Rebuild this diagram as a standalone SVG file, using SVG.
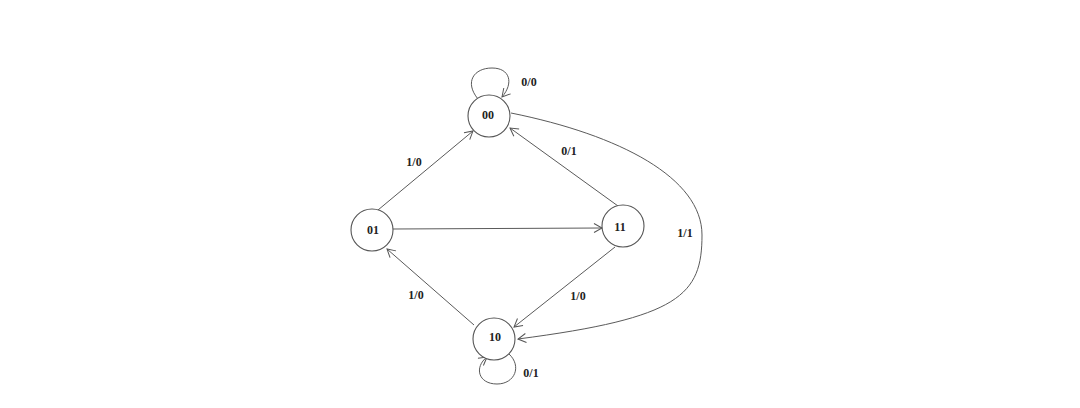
<svg xmlns="http://www.w3.org/2000/svg" width="1080" height="408" viewBox="0 0 1080 408">
<style>
.node circle{fill:#fff;stroke:#555;stroke-width:1.1}
.t{font-family:"Liberation Serif","Times New Roman",serif;font-weight:bold;font-size:12px;fill:#222;text-anchor:middle}
.e{fill:none;stroke:#5a5a5a;stroke-width:1;marker-end:url(#arr)}
</style>
<defs>
<marker id="arr" markerWidth="12" markerHeight="12" refX="9" refY="5" orient="auto" markerUnits="userSpaceOnUse">
<path d="M1,0.5 L9,5 L1,9.5" fill="none" stroke="#555" stroke-width="1"/>
</marker>
</defs>
<rect width="1080" height="408" fill="#fff"/>
<g id="connectors">
<path class="e" d="M478,99 C464,82 474,68 492,68 C510,68 514,83 502,97"/>
<path class="e" d="M509,354 C522,366 515,384 497,384 C478,384 474,367 487,357"/>
<path class="e" d="M378,210 L473,131"/>
<path class="e" d="M618,206 L510,128"/>
<path class="e" d="M393,229 L602,228"/>
<path class="e" d="M615,247 L514,327"/>
<path class="e" d="M474,325 L387,249"/>
<path class="e" d="M511,113 C620,135 702,178 702,235 C702,295 680,318 518,339"/>
<text class="t" x="529" y="86">0/0</text>
<text class="t" x="414" y="166">1/0</text>
<text class="t" x="569" y="155">0/1</text>
<text class="t" x="685" y="237">1/1</text>
<text class="t" x="416" y="299">1/0</text>
<text class="t" x="578" y="300">1/0</text>
<text class="t" x="531" y="377">0/1</text>
</g>
<g id="n00" class="node"><circle cx="489" cy="116" r="21"/><text class="t" x="488" y="119">00</text></g>
<g id="n01" class="node"><circle cx="372" cy="230" r="21"/><text class="t" x="373" y="234">01</text></g>
<g id="n11" class="node"><circle cx="623" cy="226" r="21"/><text class="t" x="620" y="231">11</text></g>
<g id="n10" class="node"><circle cx="494" cy="339" r="21"/><text class="t" x="495" y="341">10</text></g>
</svg>
